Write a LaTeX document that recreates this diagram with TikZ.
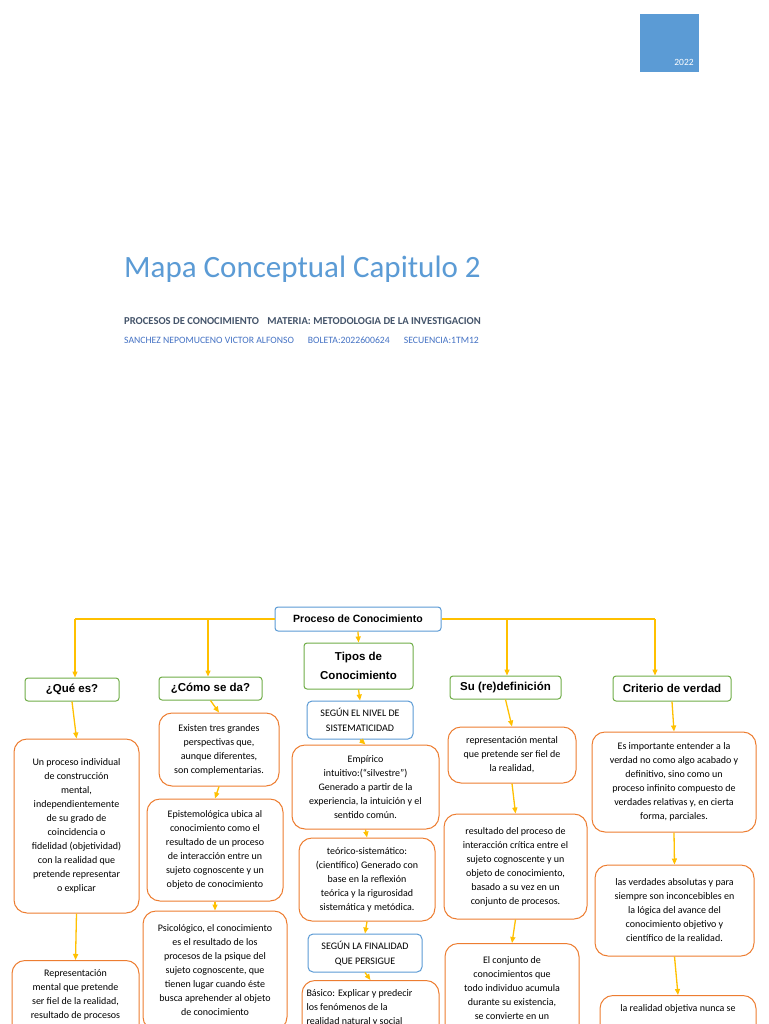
\documentclass[tikz,border=0pt]{standalone}
\usepackage{fontspec}
\setmainfont{Carlito}
\newfontfamily\hdfont{Liberation Sans}
\usetikzlibrary{arrows.meta}
\definecolor{ob}{RGB}{237,125,49}
\definecolor{gb}{RGB}{112,173,71}
\definecolor{bb}{RGB}{91,155,213}
\definecolor{ar}{RGB}{255,192,0}
\definecolor{tt}{RGB}{68,84,106}
\definecolor{t2}{RGB}{68,114,196}
\tikzset{
 obox/.style={draw=ob,line width=1pt,rounded corners=13pt,align=center,inner xsep=3pt,font=\fontsize{10}{14}\selectfont},
 gbox/.style={draw=gb,line width=1pt,rounded corners=3pt,align=center,inner xsep=3pt,font=\hdfont\bfseries\fontsize{11.5}{19}\selectfont},
 bbox/.style={draw=bb,line width=1pt,rounded corners=5pt,align=center,inner xsep=3pt,font=\fontsize{10}{15}\selectfont},
 arr/.style={draw=ar,line width=1.3pt,-{Triangle[length=6pt,width=5pt]}},
 ln/.style={draw=ar,line width=1.3pt}
}
\newcommand\bx[7]{\pgfmathsetmacro\bw{#4-#2}\pgfmathsetmacro\bh{#5-#3}%
\node[#6,minimum width=\bw pt,minimum height=\bh pt] (#1) at ({(#2+#4)/2},{(#3+#5)/2}) {#7};}
\newcommand\bxt[6]{\pgfmathsetmacro\bw{#4-#2}%
\node[#5,anchor=north,inner ysep=9pt,minimum width=\bw pt] (#1) at ({(#2+#4)/2},#3) {#6};}
\begin{document}
\begin{tikzpicture}[x=1pt,y=-1pt]
\useasboundingbox (0,0) rectangle (768,1024);
\clip (0,0) rectangle (768,1024);
\fill[white] (0,0) rectangle (768,1024);
% header
\fill[bb] (640,14) rectangle (699,72);
\node[white,font=\fontsize{9.5}{10}\selectfont] (yr) at (684,62) {2022};
\node[anchor=base west,text=bb,inner sep=0,font=\fontsize{31}{34}\selectfont] (title) at (124,277) {Mapa Conceptual Capitulo 2};
\node[anchor=base west,text=tt,inner sep=0,font=\bfseries\fontsize{10.6}{12}\selectfont] (sub1) at (124,324) {PROCESOS DE CONOCIMIENTO\hspace{6pt} MATERIA: METODOLOGIA DE LA INVESTIGACION};
\node[anchor=base west,text=t2,inner sep=0,font=\fontsize{9.7}{11}\selectfont] (sub2) at (124,343) {SANCHEZ NEPOMUCENO VICTOR ALFONSO\hspace{14pt}BOLETA:2022600624\hspace{14pt}SECUENCIA:1TM12};
% root
\node[draw=bb,line width=1pt,rounded corners=3pt,minimum width=166pt,minimum height=24pt,font=\hdfont\bfseries\fontsize{10.5}{12}\selectfont] (root) at (358,619) {Proceso de Conocimiento};
\coordinate (L) at (75,619); \coordinate (R) at (655,619);
\coordinate (j2) at (208,619); \coordinate (j4) at (507,619);
% headers
\bx{q}{25}{678}{119}{701}{gbox}{¿Qué es?}
\bx{c}{159}{677}{262}{700}{gbox}{¿Cómo se da?}
\bx{t}{304}{643}{413}{689}{gbox}{Tipos de\\Conocimiento}
\bx{s}{450}{676}{561}{699}{gbox}{Su (re)definición}
\bx{v}{613}{676}{731}{701}{gbox}{Criterio de verdad}
\draw[ln] (root.west) -- (L); \draw[ln] (root.east) -- (R);
\draw[arr] (L) -- (q.north -| L);
\draw[arr] (j2) -- (c.north -| j2);
\draw[arr] (j4) -- (s.north -| j4);
\draw[arr] (R) -- (v.north -| R);
\draw[arr] (root.south) -- (t.north);
% column 1
\bx{q1}{14}{739}{139}{913}{obox}{Un proceso individual\\de construcción\\mental,\\independientemente\\de su grado de\\coincidencia o\\fidelidad (objetividad)\\con la realidad que\\pretende representar\\o explicar}
\bxt{q2}{12}{960}{139}{obox}{Representación\\mental que pretende\\ser fiel de la realidad,\\resultado de procesos\\\mbox{}\\\mbox{}}
% column 2
\bx{c1}{159}{713}{279}{786}{obox}{Existen tres grandes\\perspectivas que,\\aunque diferentes,\\son complementarias.}
\bx{c2}{147}{799}{283}{901}{obox}{Epistemológica ubica al\\conocimiento como el\\resultado de un proceso\\de interacción entre un\\sujeto cognoscente y un\\objeto de conocimiento}
\bx{c3}{143}{911}{287}{1030}{obox}{Psicológico, el conocimiento\\es el resultado de los\\procesos de la psique del\\sujeto cognoscente, que\\tienen lugar cuando éste\\busca aprehender al objeto\\de conocimiento}
% column 3
\bx{t1}{307}{701}{413}{739}{bbox}{SEGÚN EL NIVEL DE\\SISTEMATICIDAD}
\bx{t2}{292}{745}{439}{829}{obox}{Empírico\\intuitivo:(“silvestre”)\\Generado a partir de la\\experiencia, la intuición y el\\sentido común.}
\bx{t3}{299}{838}{435}{921}{obox}{teórico-sistemático:\\(científico) Generado con\\base en la reflexión\\teórica y la rigurosidad\\sistemática y metódica.}
\bx{t4}{308}{934}{422}{972}{bbox}{SEGÚN LA FINALIDAD\\QUE PERSIGUE}
\bxt{t5}{302}{980}{439}{obox}{\parbox{128pt}{Básico: Explicar y predecir\\los fenómenos de la\\realidad natural y social\\\mbox{}}}
% column 4
\bx{s1}{448}{727}{576}{783}{obox}{representación mental\\que pretende ser fiel de\\la realidad,}
\bx{s2}{444}{814}{587}{919}{obox}{resultado del proceso de\\interacción crítica entre el\\sujeto cognoscente y un\\objeto de conocimiento,\\basado a su vez en un\\conjunto de procesos.}
\bxt{s3}{445}{943}{579}{obox}{\mbox{}\\[-3pt]El conjunto de\\conocimientos que\\todo individuo acumula\\durante su existencia,\\se convierte en un\\\mbox{}\\\mbox{}}
% column 5
\bx{v1}{592}{732}{756}{832}{obox}{Es importante entender a la\\verdad no como algo acabado y\\definitivo, sino como un\\proceso infinito compuesto de\\verdades relativas y, en cierta\\forma, parciales.}
\bx{v2}{595}{865}{754}{956}{obox}{las verdades absolutas y para\\siempre son inconcebibles en\\la lógica del avance del\\conocimiento objetivo y\\científico de la realidad.}
\bxt{v3}{600}{995}{756}{obox}{la realidad objetiva nunca se\\\mbox{}\\\mbox{}\\\mbox{}}
% arrows
\foreach \a/\b in {q/q1,q1/q2,c/c1,c1/c2,c2/c3,t/t1,t1/t2,t2/t3,t3/t4,t4/t5,s/s1,s1/s2,s2/s3,v/v1,v1/v2,v2/v3}
  \draw[arr] (\a.south) -- (\b.north);
\end{tikzpicture}
\end{document}
